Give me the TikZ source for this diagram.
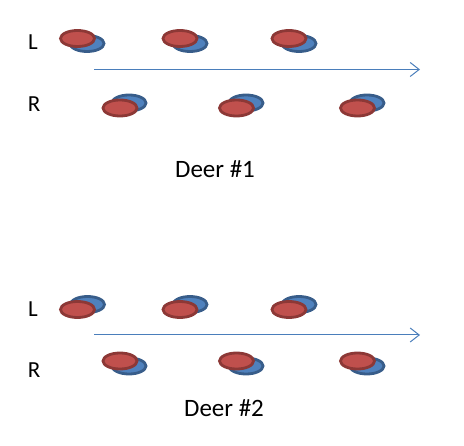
\documentclass[tikz,border=0pt]{standalone}
\usepackage{fontspec}
\setmainfont{Carlito}
\usetikzlibrary{shapes.geometric,arrows.meta}
\definecolor{redfill}{HTML}{C0504D}
\definecolor{redline}{HTML}{8C3836}
\definecolor{bluefill}{HTML}{4F81BD}
\definecolor{blueline}{HTML}{385D8A}
\definecolor{arrowcol}{HTML}{4A7EBB}
\tikzset{
  hoof/.style={ellipse, minimum width=34pt, minimum height=16pt, inner sep=0pt, line width=2.8pt},
  redhoof/.style={hoof, fill=redfill, draw=redline},
  bluehoof/.style={hoof, fill=bluefill, draw=blueline},
  sidelabel/.style={font=\fontsize{23}{27}\selectfont, inner sep=0pt},
  titlelabel/.style={font=\fontsize{25}{29}\selectfont, inner sep=0pt},
  motion/.style={draw=arrowcol, line width=1pt, -{Straight Barb[length=9pt,width=14pt,line width=1pt]}}
}
\begin{document}
\begin{tikzpicture}[x=1pt,y=-1pt]
\useasboundingbox (0,0) rectangle (464,446);
% ---------- Deer #1 ----------
\node[sidelabel] (l1) at (33,42) {L};
\node[sidelabel] (r1) at (34,104) {R};
% L row: blue lower-right
\node[bluehoof] (l1b1) at (87,43.5) {};
\node[redhoof]  (l1a1) at (77.5,38.5) {};
\node[bluehoof] (l1b2) at (190,43.5) {};
\node[redhoof]  (l1a2) at (180,38.5) {};
\node[bluehoof] (l1b3) at (299,43.5) {};
\node[redhoof]  (l1a3) at (289,38.5) {};
% R row: blue upper-right
\node[bluehoof] (r1b1) at (129,103) {};
\node[redhoof]  (r1a1) at (120,108) {};
\node[bluehoof] (r1b2) at (246,103) {};
\node[redhoof]  (r1a2) at (236.5,108) {};
\node[bluehoof] (r1b3) at (367,103) {};
\node[redhoof]  (r1a3) at (357.5,108) {};
\coordinate (s1) at (94,69.5);
\coordinate (e1) at (420,69.5);
\draw[motion] (s1) -- (e1);
\node[titlelabel] (t1) at (215,169) {Deer \#1};
% ---------- Deer #2 ----------
\node[sidelabel] (l2) at (33,309) {L};
\node[sidelabel] (r2) at (34,370) {R};
% L row: blue upper-right
\node[bluehoof] (l2b1) at (87.5,304.5) {};
\node[redhoof]  (l2a1) at (77.5,309.5) {};
\node[bluehoof] (l2b2) at (190,304.5) {};
\node[redhoof]  (l2a2) at (180,309.5) {};
\node[bluehoof] (l2b3) at (299,304.5) {};
\node[redhoof]  (l2a3) at (289,309.5) {};
% R row: blue lower-right
\node[bluehoof] (r2b1) at (129,366) {};
\node[redhoof]  (r2a1) at (120,361) {};
\node[bluehoof] (r2b2) at (246,366) {};
\node[redhoof]  (r2a2) at (236.5,361) {};
\node[bluehoof] (r2b3) at (367,366) {};
\node[redhoof]  (r2a3) at (357.5,361) {};
\coordinate (s2) at (94,335);
\coordinate (e2) at (420,335);
\draw[motion] (s2) -- (e2);
\node[titlelabel] (t2) at (224,408) {Deer \#2};
\end{tikzpicture}
\end{document}
